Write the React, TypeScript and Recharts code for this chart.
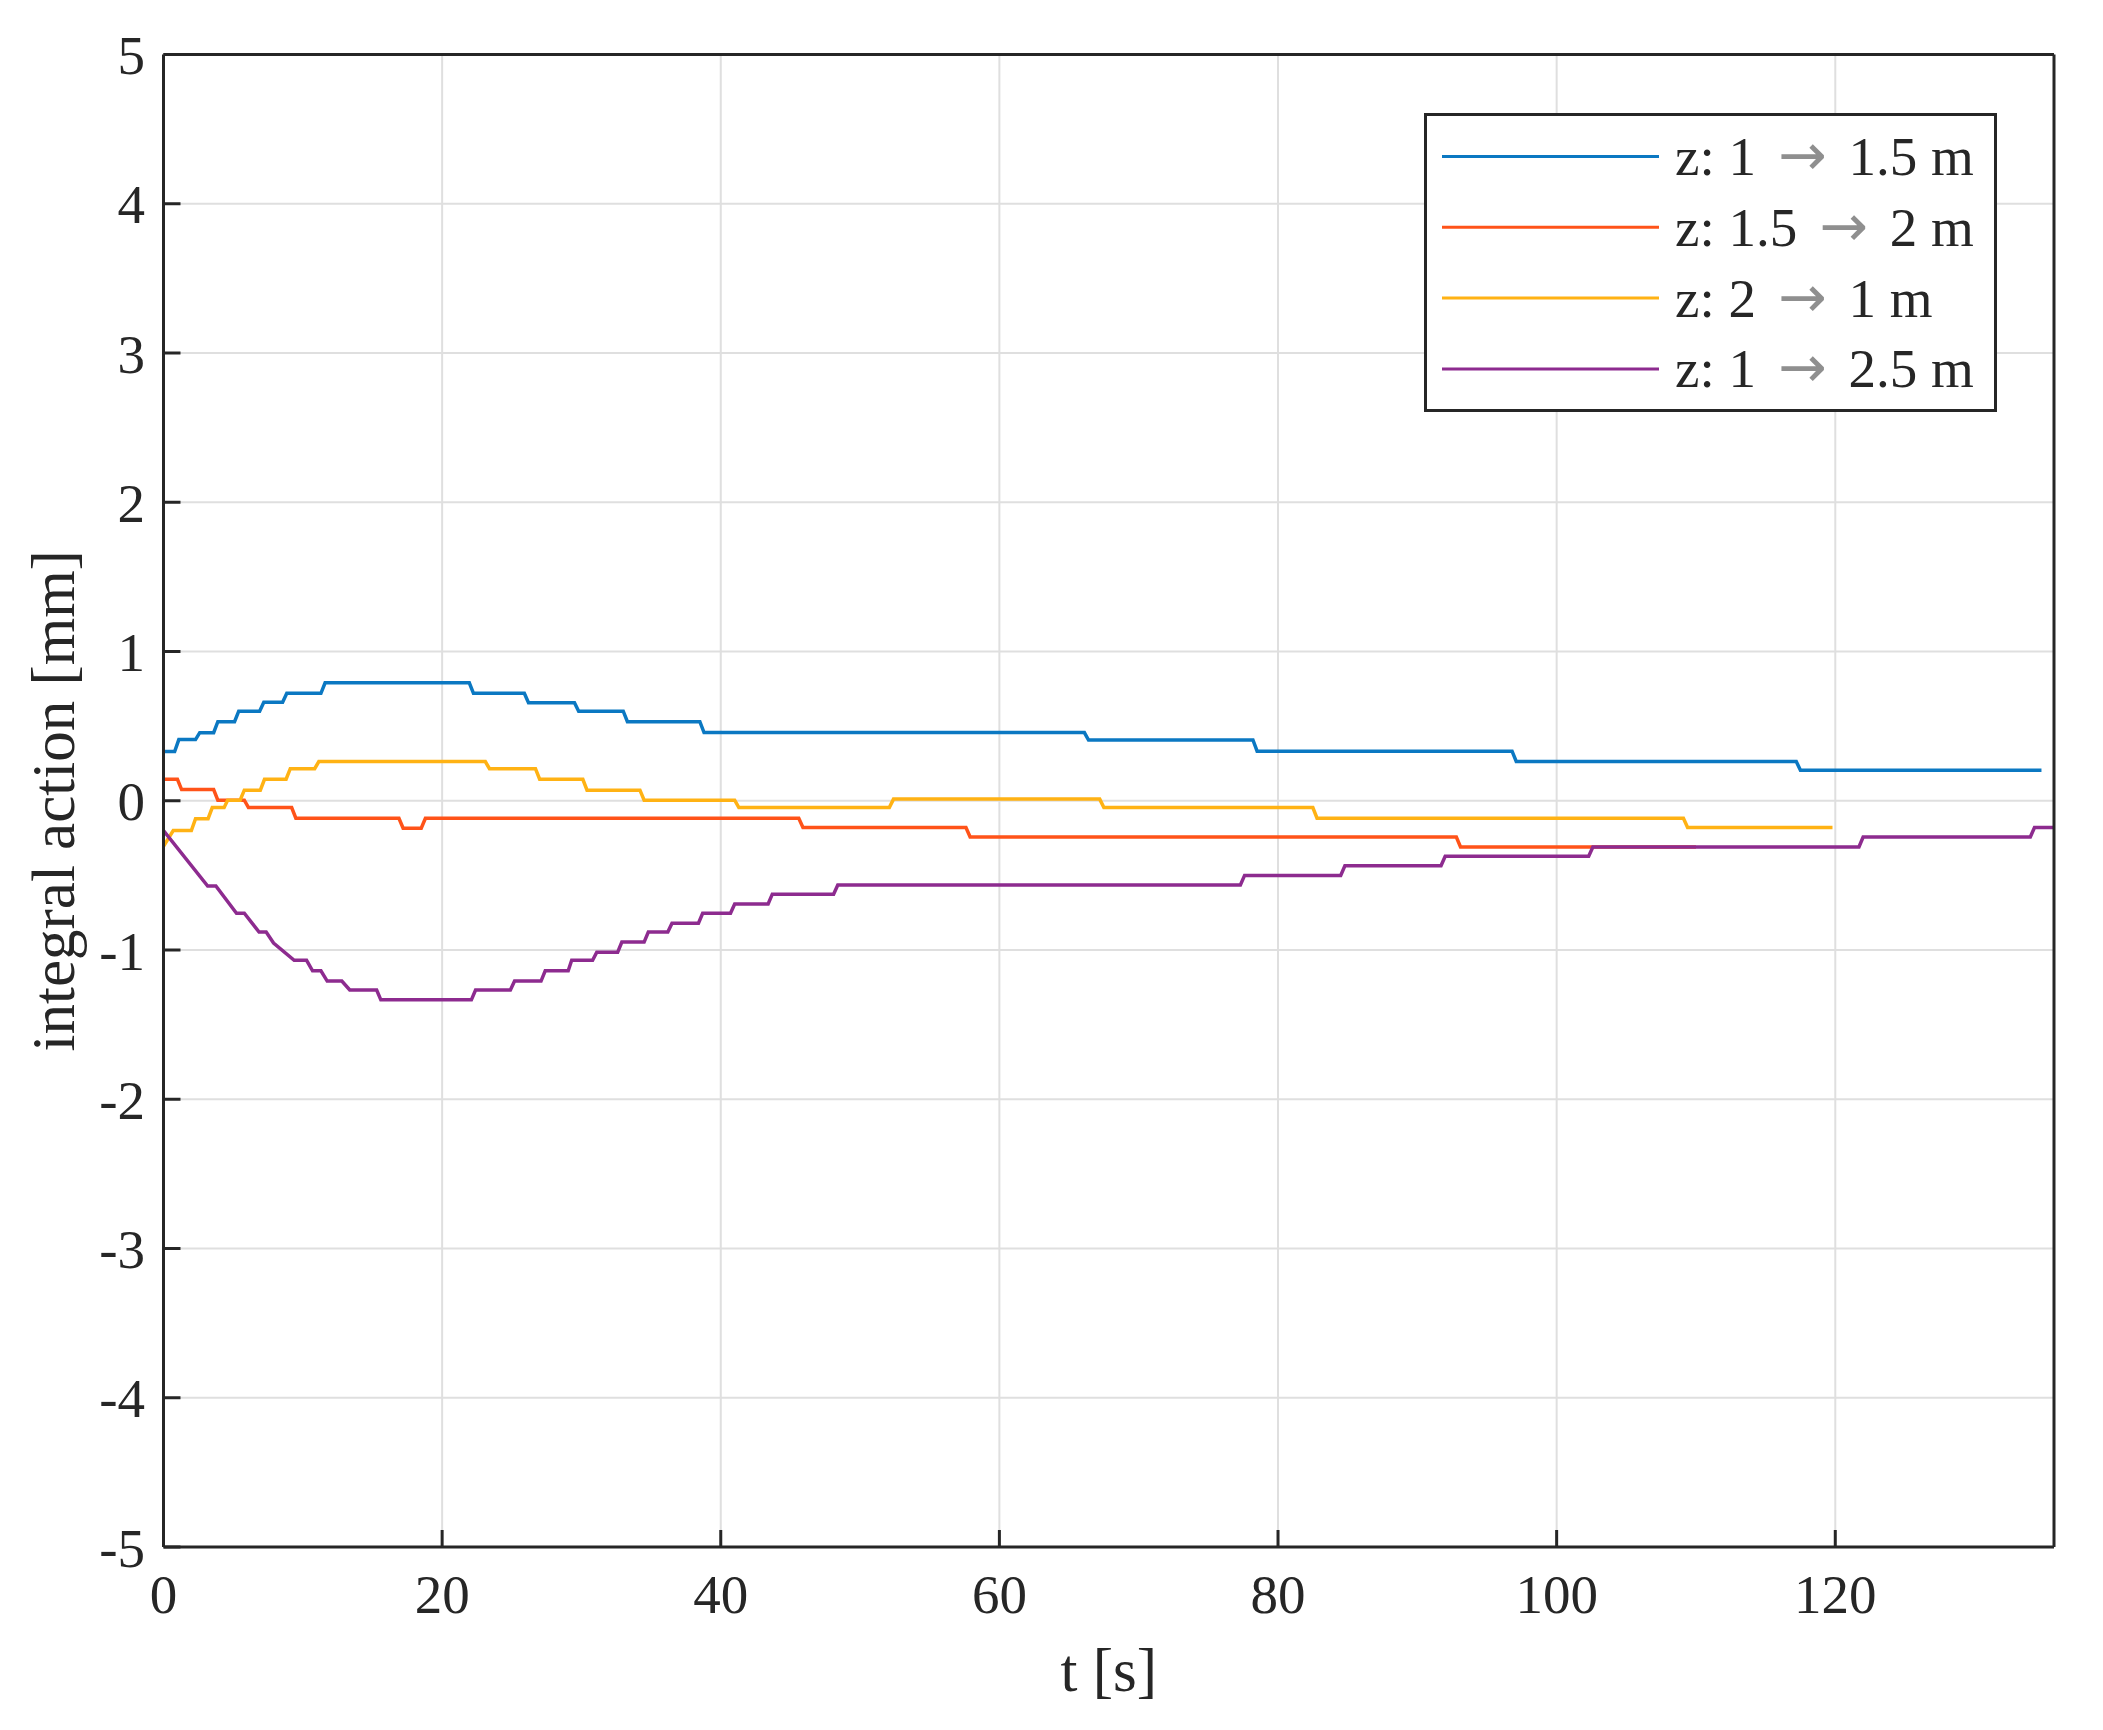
import React from 'react';
import { LineChart, Line, XAxis, YAxis, CartesianGrid, Legend, Label } from 'recharts';

const xTicks = [0, 20, 40, 60, 80, 100, 120];
const yTicks = [-5, -4, -3, -2, -1, 0, 1, 2, 3, 4, 5];

const seriesNames = ['z: 1 → 1.5 m', 'z: 1.5 → 2 m', 'z: 2 → 1 m', 'z: 1 → 2.5 m'];
const seriesColors = ['#0b78c2', '#ff5319', '#ffb214', '#8d2b8f'];

// z: 1 -> 1.5 m
const blueT = [0, 0.8, 1.1, 2.3, 2.6, 3.6, 3.9, 5.1, 5.4, 6.9, 7.2, 8.55, 8.85, 11.3, 11.6, 21.95, 22.25, 25.9, 26.2, 29.5, 29.8, 33.0, 33.3, 38.5, 38.8, 66.1, 66.4, 78.2, 78.5, 96.8, 97.1, 117.2, 117.5, 134.8];
const blueV = [0.33, 0.33, 0.41, 0.41, 0.456, 0.456, 0.53, 0.53, 0.6, 0.6, 0.66, 0.66, 0.72, 0.72, 0.79, 0.79, 0.72, 0.72, 0.657, 0.657, 0.6, 0.6, 0.53, 0.53, 0.457, 0.457, 0.407, 0.407, 0.332, 0.332, 0.263, 0.263, 0.204, 0.204];

// z: 1.5 -> 2 m
const redT = [0, 1.0, 1.3, 3.6, 3.9, 5.8, 6.1, 9.2, 9.5, 16.9, 17.2, 18.5, 18.8, 45.6, 45.9, 57.6, 57.9, 92.8, 93.1, 110];
const redV = [0.144, 0.144, 0.075, 0.075, 0.004, 0.004, -0.046, -0.046, -0.117, -0.117, -0.184, -0.184, -0.117, -0.117, -0.179, -0.179, -0.243, -0.243, -0.31, -0.31];

// z: 2 -> 1 m
const yellowT = [0, 0.7, 2.0, 2.3, 3.2, 3.5, 4.35, 4.6, 5.5, 5.8, 6.95, 7.25, 8.8, 9.1, 10.85, 11.15, 23.1, 23.4, 26.7, 27.0, 30.1, 30.4, 34.2, 34.5, 41.0, 41.3, 52.1, 52.4, 67.2, 67.5, 82.5, 82.8, 109.1, 109.4, 119.8];
const yellowV = [-0.305, -0.2, -0.2, -0.12, -0.12, -0.046, -0.046, 0.004, 0.004, 0.071, 0.071, 0.144, 0.144, 0.215, 0.215, 0.263, 0.263, 0.215, 0.215, 0.144, 0.144, 0.071, 0.071, 0.004, 0.004, -0.046, -0.046, 0.011, 0.011, -0.046, -0.046, -0.117, -0.117, -0.179, -0.179];

// z: 1 -> 2.5 m
const purpleT = [0, 3.17, 3.76, 5.24, 5.8, 6.86, 7.37, 7.9, 9.38, 10.27, 10.7, 11.3, 11.75, 12.8, 13.37, 15.3, 15.6, 22.1, 22.4, 24.9, 25.2, 27.1, 27.4, 29.05, 29.3, 30.8, 31.1, 32.6, 32.9, 34.5, 34.8, 36.2, 36.5, 38.4, 38.7, 40.7, 41.0, 43.4, 43.7, 48.1, 48.4, 77.3, 77.6, 84.5, 84.8, 91.7, 92.0, 102.3, 102.6, 121.7, 122.0, 134.0, 134.3, 135.7];
const purpleV = [-0.2, -0.571, -0.571, -0.754, -0.754, -0.88, -0.88, -0.953, -1.069, -1.069, -1.139, -1.139, -1.208, -1.208, -1.268, -1.268, -1.334, -1.334, -1.268, -1.268, -1.208, -1.208, -1.139, -1.139, -1.069, -1.069, -1.015, -1.015, -0.947, -0.947, -0.88, -0.88, -0.82, -0.82, -0.754, -0.754, -0.692, -0.692, -0.626, -0.626, -0.564, -0.564, -0.5, -0.5, -0.436, -0.436, -0.372, -0.372, -0.31, -0.31, -0.243, -0.243, -0.179, -0.179];

const toPoints = (ts: number[], vs: number[]) => ts.map((t, i) => ({ t, v: vs[i] }));
const seriesData = [
  toPoints(blueT, blueV),
  toPoints(redT, redV),
  toPoints(yellowT, yellowV),
  toPoints(purpleT, purpleV),
];

const FONT = '"Liberation Serif", "Times New Roman", serif';
const INK = '#262626';
const X_DOMAIN: [number, number] = [0, 135.7];

const LegendBox = ({ payload }: any) => {
  // keep the plotting order, not the alphabetical one
  const items = [...(payload || [])].sort(
    (a: any, b: any) => seriesNames.indexOf(a.value) - seriesNames.indexOf(b.value)
  );
  return (
    <svg width={573} height={299} style={{ display: 'block' }}>
      <rect x={1.5} y={1.5} width={570} height={296} fill="#fff" stroke={INK} strokeWidth={3} />
      {items.map((entry: any, i: number) => {
        const cy = 43.5 + i * 70.8;
        const [pre, post] = String(entry.value).split('→');
        return (
          <g key={entry.value}>
            <line x1={18} x2={235} y1={cy} y2={cy} stroke={entry.color} strokeWidth={3} />
            <text x={251} y={cy + 18.5} fontFamily={FONT} fontSize={55} fill={INK} style={{ whiteSpace: 'pre' }}>
              {pre.trim()}
              <tspan dx={22} fill="#8f8f8f" fontFamily='"DejaVu Sans"' fontSize={58}>→</tspan>
              <tspan dx={22}>{post.trim()}</tspan>
            </text>
          </g>
        );
      })}
    </svg>
  );
};

const App = () => {
  const axisLine = { stroke: INK, strokeWidth: 3 };
  return (
    <div style={{ width: 2087, height: 1714, fontFamily: FONT }}>
      <LineChart width={2087} height={1714} margin={{ top: 45.5, right: 40, left: 0, bottom: 0 }}>
        <CartesianGrid stroke="#dfdfdf" strokeWidth={2} />
        <XAxis
          dataKey="t"
          type="number"
          domain={X_DOMAIN}
          ticks={xTicks}
          interval={0}
          allowDataOverflow
          height={175}
          axisLine={axisLine}
          tickLine={axisLine}
          tickSize={-17}
          tickMargin={44}
          tick={{ fontSize: 55, fill: INK, fontFamily: FONT }}
        >
          <Label value="t [s]" position="insideBottom" offset={31} fontSize={61} fill={INK} fontFamily={FONT} />
        </XAxis>
        <XAxis
          xAxisId="top"
          orientation="top"
          dataKey="t"
          type="number"
          domain={X_DOMAIN}
          ticks={xTicks}
          interval={0}
          allowDataOverflow
          height={1}
          axisLine={axisLine}
          tickLine={axisLine}
          tickSize={-17}
          tick={false}
        />
        <YAxis
          type="number"
          domain={[-5, 5]}
          ticks={yTicks}
          interval={0}
          allowDataOverflow
          width={155.5}
          axisLine={axisLine}
          tickLine={axisLine}
          tickSize={-17}
          tickMargin={35.5}
          tick={{ fontSize: 55, fill: INK, fontFamily: FONT }}
        >
          <Label
            value="integral action [mm]"
            angle={-90}
            position="insideLeft"
            offset={44.5}
            fontSize={61}
            fill={INK}
            fontFamily={FONT}
            style={{ textAnchor: 'middle' }}
          />
        </YAxis>
        <YAxis
          yAxisId="right"
          orientation="right"
          type="number"
          domain={[-5, 5]}
          ticks={yTicks}
          interval={0}
          allowDataOverflow
          width={1}
          axisLine={axisLine}
          tickLine={axisLine}
          tickSize={-17}
          tick={false}
        />
        <Legend
          layout="horizontal"
          verticalAlign="middle"
          align="center"
          content={LegendBox}
          wrapperStyle={{ left: 1416, top: 104.7, width: 573, height: 299 }}
        />
        {seriesData.map((data, i) => (
          <Line
            key={seriesNames[i]}
            data={data}
            dataKey="v"
            name={seriesNames[i]}
            type="linear"
            stroke={seriesColors[i]}
            strokeWidth={3.5}
            dot={false}
            activeDot={false}
            isAnimationActive={false}
          />
        ))}
      </LineChart>
    </div>
  );
};

export default App;
